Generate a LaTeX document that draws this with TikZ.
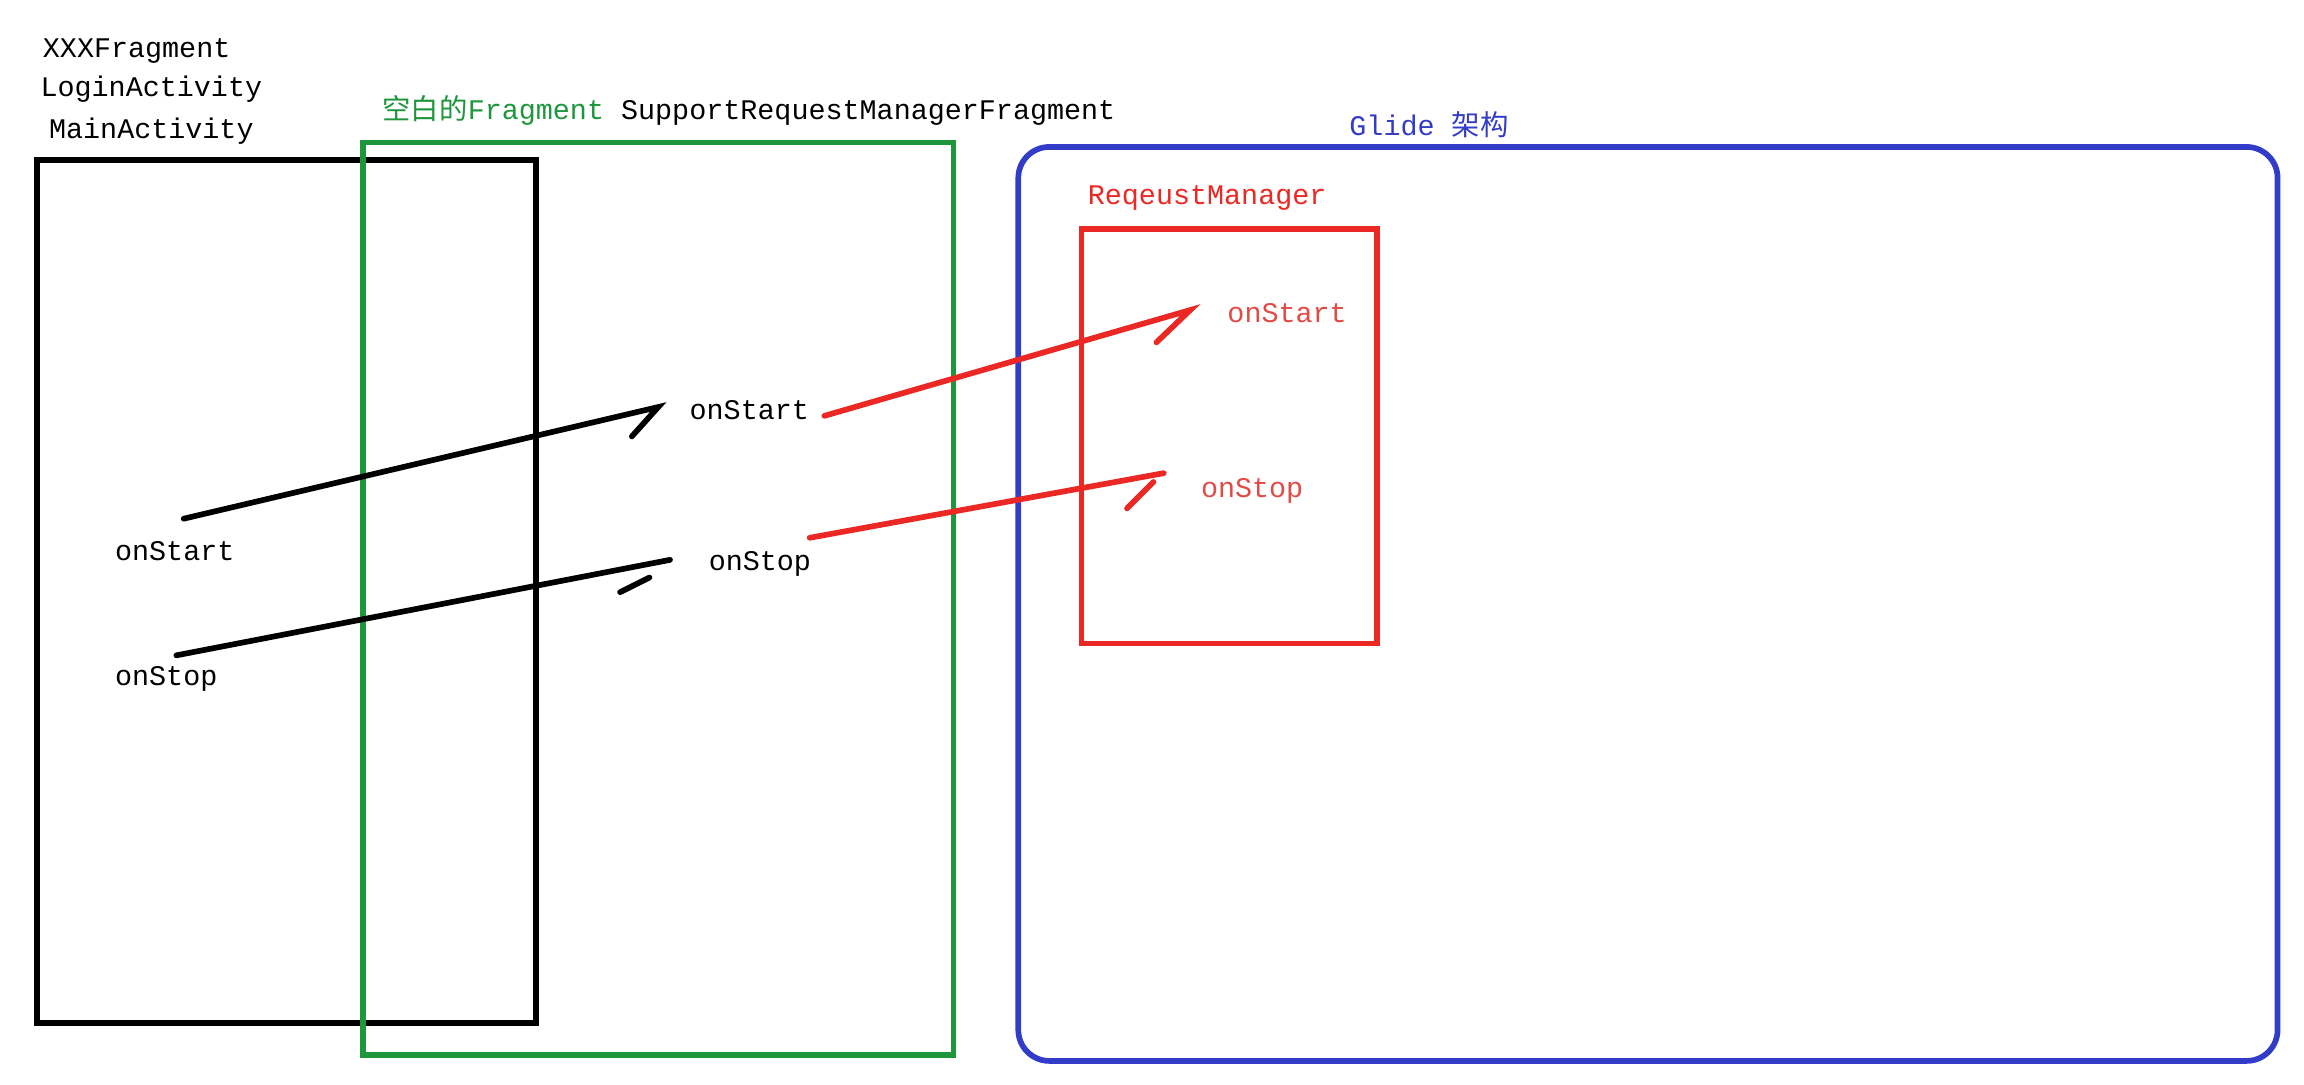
\documentclass[tikz,border=0pt]{standalone}
\usepackage{fontspec}
\setmainfont{Liberation Mono}
\newfontfamily\cjk{Noto Sans CJK SC}
\begin{document}
\begin{tikzpicture}[x=0.02cm,y=-0.02cm,
  box/.style={line width=2.2pt},
  lbl/.style={font=\fontsize{11}{13}\selectfont,inner sep=0pt,anchor=west},
  arr/.style={line width=2.2pt,line cap=round}]
\definecolor{gr}{RGB}{30,150,60}
\definecolor{bl}{RGB}{50,60,200}
\definecolor{rd}{RGB}{235,40,35}
\definecolor{rdt}{RGB}{225,75,70}
\useasboundingbox (0,0) rectangle (1568,738);
\draw[box] (25,109) rectangle (365,696);
\draw[box,gr] (247,97) rectangle (649,718);
\draw[box,bl,rounded corners=12pt] (693,100) rectangle (1550,722);
\draw[box,rd] (736,156) rectangle (937,438);
\node[lbl,anchor=center] (t1) at (93,35) {XXXFragment};
\node[lbl,anchor=center] (t2) at (103,61) {LoginActivity};
\node[lbl,anchor=center] (t3) at (103,89) {MainActivity};
\node[lbl] (t4) at (260,75) {\textcolor{gr}{{\cjk 空白的}Fragment} SupportRequestManagerFragment};
\node[lbl,text=bl] (t5) at (918,85) {Glide {\cjk 架构}};
\node[lbl,text=rd] (t6) at (740,135) {ReqeustManager};
\node[lbl] (a1) at (78,375) {onStart};
\node[lbl] (a2) at (78,462) {onStop};
\node[lbl] (b1) at (469,279) {onStart};
\node[lbl] (b2) at (482,384) {onStop};
\node[lbl,text=rdt] (c1) at (835,213) {onStart};
\node[lbl,text=rdt] (c2) at (817,334) {onStop};
\coordinate (s1) at (125,353); \coordinate (e1) at (448,277); \coordinate (h1) at (430,297);
\coordinate (s2) at (120,446); \coordinate (e2) at (456,381); \coordinate (h2) at (422,403);
\coordinate (s3) at (561,283); \coordinate (e3) at (810,211); \coordinate (h3) at (787,233);
\coordinate (s4) at (551,366); \coordinate (e4) at (792,322); \coordinate (h4) at (767,346);
\draw[arr] (s1) -- (e1) -- (h1);
\draw[arr] (s2) -- (e2) (h2) -- ++(20,-10);
\draw[arr,rd] (s3) -- (e3) -- (h3);
\draw[arr,rd] (s4) -- (e4) (e4) ++(-7,6) -- (h4);
\end{tikzpicture}
\end{document}
